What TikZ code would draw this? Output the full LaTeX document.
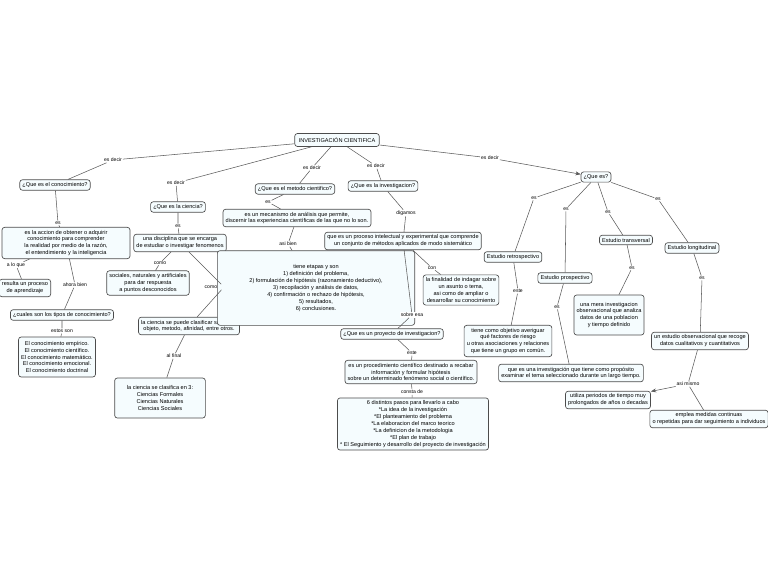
\documentclass[tikz,border=0pt]{standalone}
\usepackage{fontspec}
\setmainfont{Liberation Sans}
\usetikzlibrary{arrows.meta}
\begin{document}
\begin{tikzpicture}[x=0.75pt,y=-0.75pt,
 box/.style={draw=black!70,fill=cyan!4!white,rounded corners=2pt,align=center,font=\fontsize{4.2}{5.2}\selectfont,inner sep=2pt,line width=0.5pt},
 lab/.style={font=\fontsize{3.8}{4.6}\selectfont,fill=white,inner sep=0.5pt},
 ln/.style={draw=black!65,line width=0.4pt}]
\useasboundingbox (0,0) rectangle (768,578);
\node[box,inner sep=3pt] (inv) at (337,140) {INVESTIGACIÓN CIENTIFICA};
\node[lab] (l1) at (113,160) {es decir};
\node[lab] (l2) at (176,183) {es decir};
\node[lab] (l3) at (312,168) {es decir};
\node[lab] (l4) at (376,166) {es decir};
\node[lab] (l5) at (490,158) {es decir};
% conocimiento
\node[box] (con) at (55,185) {¿Que es el conocimiento?};
\node[lab] (c1) at (58,223) {es};
\node[box,minimum width=128pt*0.75,minimum height=22] (cdef) at (66,243) {es la accion de obtener o adquirir\\conocimiento para comprender\\la realidad por medio de la razón,\\el entendimiento y la inteligencia};
\node[lab] (c2) at (16,265) {a lo que};
\node[box] (res) at (25,288) {resulta un proceso\\de aprendizaje};
\node[lab] (c3) at (75,285) {ahora bien};
\node[box] (cual) at (62,315) {¿cuales son los tipos de conocimiento?};
\node[lab] (c4) at (62,331) {estos son};
\node[box,minimum height=30] (tipos) at (57,357) {El conocimiento empírico.\\El conocimiento científico.\\El conocimiento matemático.\\El conocimiento emocional.\\El conocimiento doctrinal};
% ciencia
\node[box] (cie) at (178,207) {¿Que es la ciencia?};
\node[lab] (s1) at (178,226) {es};
\node[box] (disc) at (180,243) {una disciplina que se encarga\\de estudiar o investigar fenomenos};
\node[lab] (s2) at (160,263) {como};
\node[box] (soc) at (148,283) {sociales, naturales y artificiales\\para dar respuesta\\a puntos desconocidos};
\node[lab] (s3) at (224,287) {como se clasifica};
\node[box] (cpc) at (189,326) {la ciencia se puede clasificar según su\\objeto, metodo, afinidad, entre otros.};
\node[lab] (s4) at (174,356) {al final};
\node[box,minimum height=30,minimum width=68] (c3b) at (160,398) {la ciencia se clasifica en 3:\\Ciencias Formales\\Ciencias Naturales\\Ciencias Sociales};
% metodo
\node[box] (met) at (295,189) {¿Que es el metodo cientifico?};
\node[lab] (m1) at (268,202) {es};
\node[box] (mec) at (297,218) {es un mecanismo de análisis que permite,\\discernir las experiencias científicas de las que no lo son.};
\node[lab] (m2) at (288,244) {asi bien};
\node[box,minimum width=148,minimum height=56] (eta) at (316,288) {tiene etapas y son\\1) definición del problema,\\2) formulación de hipótesis (razonamiento deductivo),\\3) recopilación y análisis de datos,\\4) confirmación o rechazo de hipótesis,\\5) resultados,\\6) conclusiones.};
% investigacion
\node[box] (inq) at (383,186) {¿Que es la investigacion?};
\node[lab] (i1) at (406,213) {digamos};
\node[box] (pro) at (403,241) {que es un proceso intelectual y experimental que comprende\\un conjunto de métodos aplicados de modo sistemático};
\node[lab] (i2) at (432,268) {con};
\node[box] (fin) at (461,290) {la finalidad de indagar sobre\\un asunto o tema,\\asi como de ampliar o\\desarrollar su conocimiento};
\node[lab] (i3) at (412,315) {sobre esa};
\node[box] (pry) at (392,334) {¿Que es un proyecto de investigacion?};
\node[lab] (i4) at (412,353) {este};
\node[box] (prc) at (411,372) {es un procedimiento científico destinado a recabar\\información y formular hipótesis\\sobre un determinado fenómeno social o científico.};
\node[lab] (i5) at (412,392) {consta de};
\node[box] (pas) at (413,424) {6 distintos pasos para llevarlo a cabo\\*La idea de la investigación\\*El planteamiento del problema\\*La elaboracion del marco teorico\\*La definicion de la metodologia\\*El plan de trabajo\\* El Seguimiento y desarrollo del proyecto de investigación};
% que es
\node[box] (que) at (596,177) {¿Que es?};
\node[lab] (q1) at (534,198) {es};
\node[lab] (q2) at (566,209) {es};
\node[lab] (q3) at (608,212) {es};
\node[lab] (q4) at (658,199) {es};
\node[box] (ret) at (513,257) {Estudio retrospectivo};
\node[box] (pros) at (565,278) {Estudio prospectivo};
\node[box] (tra) at (626,240) {Estudio transversal};
\node[box] (lon) at (692,248) {Estudio longitudinal};
\node[lab] (r1) at (518,291) {este};
\node[lab] (p1) at (557,307) {es};
\node[lab] (t1) at (632,268) {es};
\node[lab] (o1) at (702,278) {es};
\node[box] (ave) at (508,341) {tiene como objetivo averiguar\\qué factores de riesgo\\u otras asociaciones y relaciones\\que tiene un grupo en común.};
\node[box] (lar) at (571,373) {que es una investigación que tiene como propósito\\examinar el tema seleccionado durante un largo tiempo.};
\node[box,minimum height=30] (mer) at (609,315) {una mera investigacion\\observacional que analiza\\datos de una poblacion\\y tiempo definido};
\node[box] (obs) at (700,341) {un estudio observacional que recoge\\datos cualitativos y cuantitativos};
\node[lab] (o2) at (688,384) {asi mismo};
\node[box] (uti) at (608,400) {utiliza periodos de tiempo muy\\prolongados de años o decadas};
\node[box] (emp) at (709,419) {emplea medidas continuas\\o repetidas para dar seguimiento a individuos};
% edges
\path[ln] (inv)--(l1)--(con); \path[ln] (inv)--(l2)--(cie);
\path[ln] (inv)--(l3)--(met); \path[ln] (inv)--(l4)--(inq);
\path[ln] (inv)--(l5); \draw[ln,-{Stealth[length=4pt]}] (l5)--(que);
\path[ln] (con)--(c1)--(cdef); \path[ln] (cdef)--(c2)--(res);
\path[ln] (cdef)--(c3)--(cual); \path[ln] (cual)--(c4)--(tipos);
\path[ln] (cie)--(s1)--(disc); \path[ln] (disc)--(s2)--(soc);
\path[ln] (disc)--(s3)--(cpc); \path[ln] (cpc)--(s4)--(c3b);
\path[ln] (met)--(m1)--(mec); \path[ln] (mec)--(m2)--(eta);
\path[ln] (inq)--(i1)--(pro); \path[ln] (pro)--(i2)--(fin);
\path[ln] (pro)--(i3)--(pry); \path[ln] (pry)--(i4)--(prc);
\path[ln] (prc)--(i5)--(pas);
\path[ln] (que)--(q1)--(ret); \path[ln] (que)--(q2)--(pros);
\path[ln] (que)--(q3)--(tra); \path[ln] (que)--(q4)--(lon);
\path[ln] (ret)--(r1)--(ave); \path[ln] (pros)--(p1)--(lar);
\path[ln] (tra)--(t1)--(mer); \path[ln] (lon)--(o1)--(obs);
\path[ln] (obs)--(o2); \draw[ln,-{Stealth[length=4pt]}] (o2)--(uti);
\path[ln] (o2)--(emp);
\end{tikzpicture}
\end{document}
